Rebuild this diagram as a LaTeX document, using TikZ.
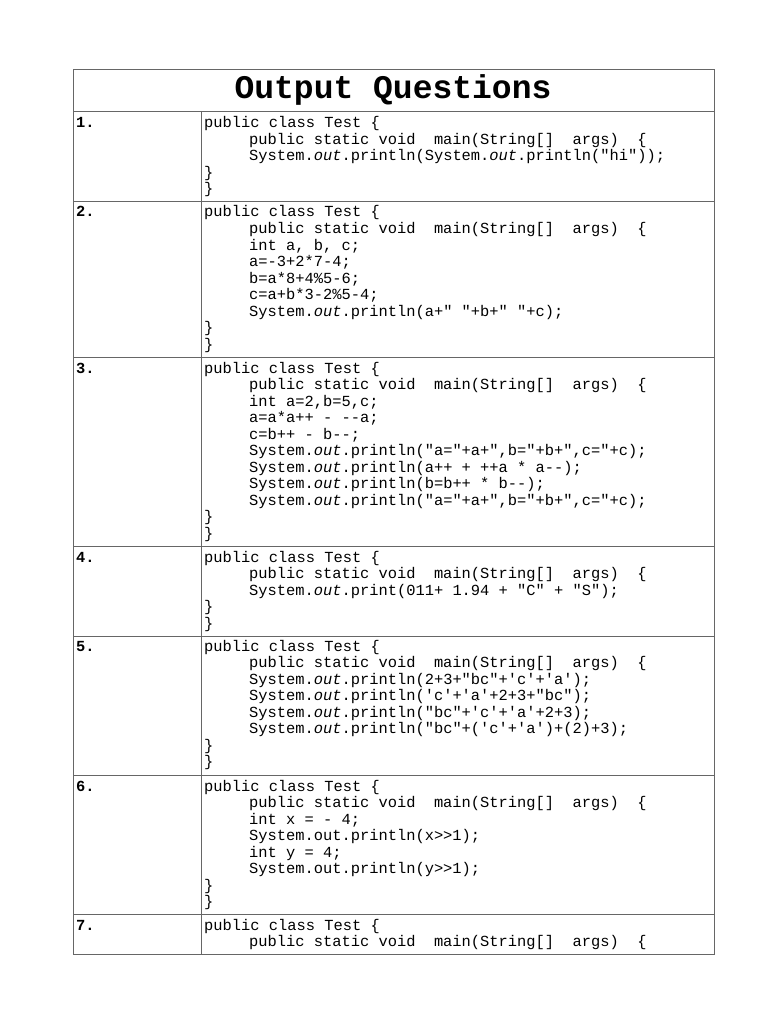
\documentclass[tikz,border=0pt]{standalone}
\usepackage{fontspec}
\newfontfamily\code{Liberation Mono}
\begin{document}
\begin{tikzpicture}[x=1pt,y=-1pt,
  code/.style={font=\code\fontsize{15.4}{16}\selectfont,inner sep=0pt,anchor=base west},
  num/.style={code,font=\code\bfseries\fontsize{15.4}{16}\selectfont},
  grid/.style={draw=black!60,line width=0.8pt}]
\useasboundingbox (0,0) rectangle (768,1024);
\newcommand\cl[4]{\node[code] at (#3,{#1+#2*16.5+5}) {#4};}
\newcommand\ci[3]{\cl{#1}{#2}{249}{#3}}
\newcommand\cb[3]{\cl{#1}{#2}{204}{#3}}
% grid
\draw[grid] (73,69) rectangle (714,954);
\foreach \y in {111,201,357,546,636,775,914} \draw[grid] (73,\y) -- (714,\y);
\draw[grid] (201,111) -- (201,954);
\node[font=\code\bfseries\fontsize{33}{36}\selectfont,inner sep=0pt] (title) at (393,90) {Output Questions};
% numbers
\foreach \n/\y in {1/123,2/212,3/368,4/557,5/646,6/786,7/925}
  \node[num] (n\n) at (76,{\y+5}) {\n.};
% row 1
\def\r{123}
\cb{\r}{0}{public class Test \{}
\ci{\r}{1}{public static void~~main(String[]~~args)~~\{}
\ci{\r}{2}{System.\textit{out}.println(System.\textit{out}.println("hi"));}
\cb{\r}{3}{\}}
\cb{\r}{4}{\}}
% row 2
\def\r{212}
\cb{\r}{0}{public class Test \{}
\ci{\r}{1}{public static void~~main(String[]~~args)~~\{}
\ci{\r}{2}{int a, b, c;}
\ci{\r}{3}{a=-3+2*7-4;}
\ci{\r}{4}{b=a*8+4\%5-6;}
\ci{\r}{5}{c=a+b*3-2\%5-4;}
\ci{\r}{6}{System.\textit{out}.println(a+" "+b+" "+c);}
\cb{\r}{7}{\}}
\cb{\r}{8}{\}}
% row 3
\def\r{368}
\cb{\r}{0}{public class Test \{}
\ci{\r}{1}{public static void~~main(String[]~~args)~~\{}
\ci{\r}{2}{int a=2,b=5,c;}
\ci{\r}{3}{a=a*a++ - --a;}
\ci{\r}{4}{c=b++ - b--;}
\ci{\r}{5}{System.\textit{out}.println("a="+a+",b="+b+",c="+c);}
\ci{\r}{6}{System.\textit{out}.println(a++ + ++a * a--);}
\ci{\r}{7}{System.\textit{out}.println(b=b++ * b--);}
\ci{\r}{8}{System.\textit{out}.println("a="+a+",b="+b+",c="+c);}
\cb{\r}{9}{\}}
\cb{\r}{10}{\}}
% row 4
\def\r{557}
\cb{\r}{0}{public class Test \{}
\ci{\r}{1}{public static void~~main(String[]~~args)~~\{}
\ci{\r}{2}{System.\textit{out}.print(011+ 1.94 + "C" + "S");}
\cb{\r}{3}{\}}
\cb{\r}{4}{\}}
% row 5
\def\r{646}
\cb{\r}{0}{public class Test \{}
\ci{\r}{1}{public static void~~main(String[]~~args)~~\{}
\ci{\r}{2}{System.\textit{out}.println(2+3+"bc"+'c'+'a');}
\ci{\r}{3}{System.\textit{out}.println('c'+'a'+2+3+"bc");}
\ci{\r}{4}{System.\textit{out}.println("bc"+'c'+'a'+2+3);}
\ci{\r}{5}{System.\textit{out}.println("bc"+('c'+'a')+(2)+3);}
\cb{\r}{6}{\}}
\cb{\r}{7}{\}}
% row 6
\def\r{786}
\cb{\r}{0}{public class Test \{}
\ci{\r}{1}{public static void~~main(String[]~~args)~~\{}
\ci{\r}{2}{int x = - 4;}
\ci{\r}{3}{System.out.println(x>>1);}
\ci{\r}{4}{int y = 4;}
\ci{\r}{5}{System.out.println(y>>1);}
\cb{\r}{6}{\}}
\cb{\r}{7}{\}}
% row 7
\def\r{925}
\cb{\r}{0}{public class Test \{}
\ci{\r}{1}{public static void~~main(String[]~~args)~~\{}
\end{tikzpicture}
\end{document}
